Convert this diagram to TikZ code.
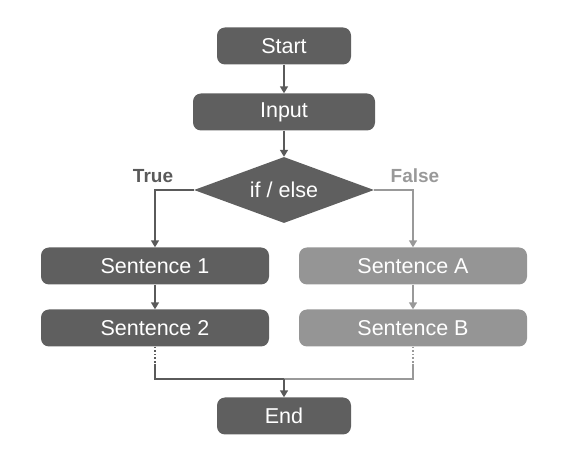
\documentclass[tikz,border=0pt]{standalone}
\usepackage{fontspec}
\setmainfont{Liberation Sans}
\usetikzlibrary{shapes.geometric,arrows.meta}
\definecolor{darkbox}{HTML}{5F5F5F}
\definecolor{lightbox}{HTML}{959595}
\definecolor{darkline}{HTML}{5A5A5A}
\definecolor{lightline}{HTML}{999999}
\tikzset{
  base/.style={rounded corners=8pt, text=white, inner sep=0pt, font=\fontsize{21.5}{24}\selectfont},
  darkbx/.style={base, fill=darkbox},
  lightbx/.style={base, fill=lightbox},
  conn/.style={line width=1.6pt, -{Triangle[length=7pt,width=8pt]}},
  plain/.style={line width=1.6pt},
  dots/.style={line width=1.6pt, dash pattern=on 1.6pt off 2pt},
  lbl/.style={font=\bfseries\fontsize{19}{22}\selectfont}
}
\begin{document}
\begin{tikzpicture}[x=1pt,y=-1pt]
\useasboundingbox (0,0) rectangle (566,462);
\node[darkbx, minimum width=134pt, minimum height=37pt] (start) at (284,46) {Start};
\node[darkbx, minimum width=182pt, minimum height=37pt] (input) at (284,112) {Input};
\node[diamond, fill=darkbox, text=white, inner sep=0pt, minimum width=180pt, minimum height=66pt, aspect=2.7, font=\fontsize{21.5}{24}\selectfont] (cond) at (284,190) {if / else};
\node[darkbx, minimum width=228pt, minimum height=37pt] (s1) at (155,266) {Sentence 1};
\node[darkbx, minimum width=228pt, minimum height=37pt] (s2) at (155,328) {Sentence 2};
\node[lightbx, minimum width=228pt, minimum height=37pt] (sa) at (413,266) {Sentence A};
\node[lightbx, minimum width=228pt, minimum height=37pt] (sb) at (413,328) {Sentence B};
\node[darkbx, minimum width=134pt, minimum height=37pt] (end) at (284,416) {End};
\node[lbl, text=darkline] (true) at (153,176) {True};
\node[lbl, text=lightline] (false) at (415,176) {False};
\coordinate (ldot) at (155,364);
\coordinate (rdot) at (413,364);
\coordinate (lcorner) at (155,379);
\coordinate (rcorner) at (413,379);
\coordinate (mid) at (284,379);
\draw[conn, darkline] (start) -- (input);
\draw[conn, darkline] (input) -- (cond);
\draw[conn, darkline] (cond.west) -| (s1.north);
\draw[conn, lightline] (cond.east) -| (sa.north);
\draw[conn, darkline] (s1) -- (s2);
\draw[conn, lightline] (sa) -- (sb);
\draw[dots, darkline] (s2.south) -- (ldot);
\draw[dots, lightline] (sb.south) -- (rdot);
\draw[plain, lightline] (rdot) -- (rcorner) -- (mid);
\draw[plain, darkline] (ldot) -- (lcorner) -- (mid);
\draw[conn, darkline] (mid) -- (end);
\end{tikzpicture}
\end{document}
